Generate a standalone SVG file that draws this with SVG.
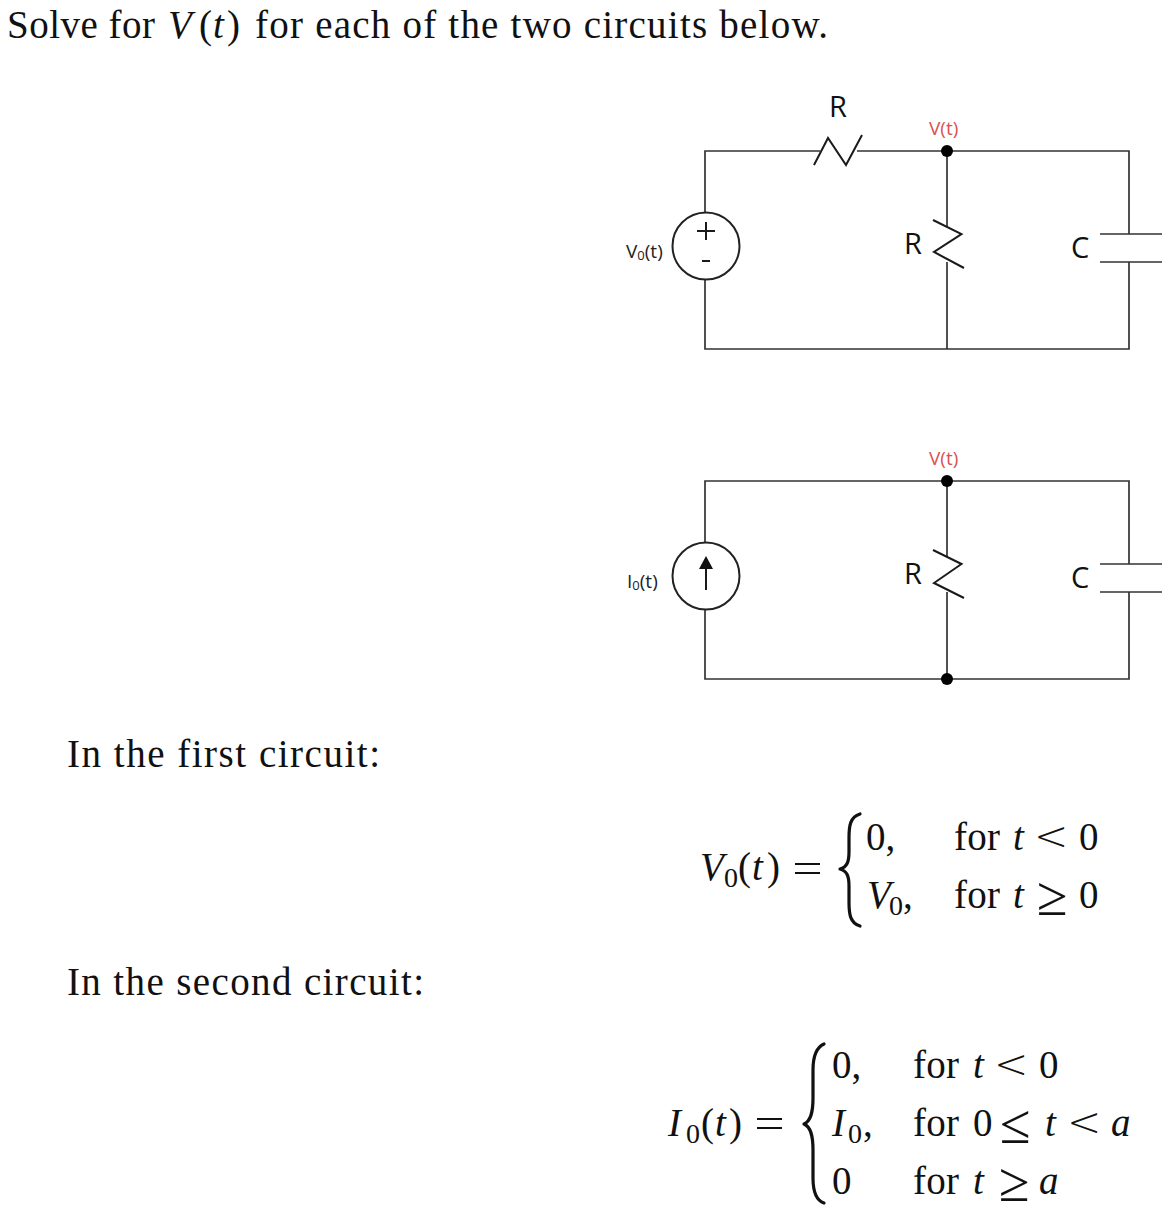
<svg xmlns="http://www.w3.org/2000/svg" width="1174" height="1226" viewBox="0 0 1174 1226">
<style>
.w{fill:none;stroke:#333;stroke-width:1.7}
.c{fill:none;stroke:#222;stroke-width:2}
.z{fill:none;stroke:#1a1a1a;stroke-width:2}
.b{fill:none;stroke:#111;stroke-width:3.200;stroke-linecap:round;stroke-linejoin:round}
.q{fill:none;stroke:#111;stroke-width:2}
.d{fill:#000}
.l{font-family:"Open Sans","Liberation Sans",sans-serif;fill:#222}
.n{font-size:19px}
.m{font-size:29px;fill:#111}
.r{font-size:19px;fill:#d9534f}
.t{font-family:"Liberation Serif",serif;fill:#111;font-size:39px}
.e{font-family:"Liberation Serif",serif;fill:#111;font-size:39px}
.o{font-family:"DejaVu Sans",sans-serif;fill:#111;font-size:41px;font-weight:200}
.g{font-family:"Liberation Serif",serif;fill:#111;font-size:56px}
.i{font-style:italic}
.s{font-size:28px}
</style>
<rect width="1174" height="1226" fill="#fff"/>
<g id="text-blocks">
<text class="t" x="7" y="38" textLength="148">Solve for</text>
<text class="t i" x="168" y="38">V</text>
<text class="t" x="199" y="38">(</text>
<text class="t i" x="213" y="38">t</text>
<text class="t" x="227" y="38">)</text>
<text class="t" x="255" y="38" textLength="573">for each of the two circuits below.</text>
<text class="t" x="67" y="767" textLength="313">In the first circuit:</text>
<text class="t" x="67" y="995" textLength="357">In the second circuit:</text>
</g>
<g id="connectors">
<path class="w" d="M705 212V151H820M857 151H947H1129V234M1129 262V349H705V280"/>
<path class="w" d="M947 151V227M947 262V349"/>
<path class="w" d="M705 542V481H1129V564M1129 592V679H705V610"/>
<path class="w" d="M947 481V557M947 592V679"/>
</g>
<g id="source-v"><circle class="c" cx="706" cy="246" r="33.500"/><path class="z" d="M697 231H715M706 222V240M702 261H710"/><text class="l n" x="626" y="258">V<tspan font-size="13" dy="2">0</tspan><tspan dy="-2">(t)</tspan></text></g>
<g id="resistor-r1"><path class="z" d="M814 165L828 138L846 165L862 135"/><text class="l m" x="829" y="117">R</text></g>
<g id="node-v1"><circle class="d" cx="947" cy="151" r="6"/><text class="l r" x="929" y="135">V(t)</text></g>
<g id="resistor-r2"><path class="z" d="M933 220L961.500 234L934 252L964 268"/><text class="l m" x="904" y="254">R</text></g>
<g id="capacitor-c1"><path class="w" d="M1100 234H1162M1100 262H1162"/><text class="l m" x="1071" y="258">C</text></g>
<g id="source-i"><circle class="c" cx="706" cy="576" r="33.500"/><path class="z" d="M706 590V565"/><path d="M706 556L713 569H699Z" fill="#111"/><text class="l n" x="627" y="588">I<tspan font-size="13" dy="2">0</tspan><tspan dy="-2">(t)</tspan></text></g>
<g id="node-v2"><circle class="d" cx="947" cy="481" r="6"/><text class="l r" x="929" y="465">V(t)</text></g>
<g id="resistor-r3"><path class="z" d="M933 550L961.500 564L934 583L964 598"/><text class="l m" x="904" y="584">R</text></g>
<g id="capacitor-c2"><path class="w" d="M1100 564H1162M1100 592H1162"/><text class="l m" x="1071" y="588">C</text></g>
<g id="node-bottom"><circle class="d" cx="947" cy="679" r="6"/></g>
<g id="equation-1">
<text class="e i" x="700" y="880">V</text><text class="e s" x="724" y="887">0</text><text class="e" x="738" y="880">(</text><text class="e i" x="752" y="880">t</text><text class="e" x="767" y="880">)</text>
<path class="q" d="M795 864H820M795 873H820"/>
<path class="b" d="M860 814C850 817 849 826 849 838V852C849 862 847 867 840 869C847 871 849 876 849 886V902C849 914 850 923 860 926"/>
<text class="e" x="866" y="850">0,</text><text class="e" x="954" y="850" textLength="46">for</text><text class="e i" x="1013" y="850">t</text><text class="o" x="1034" y="850">&lt;</text><text class="e" x="1079" y="850">0</text>
<text class="e i" x="867" y="908">V</text><text class="e s" x="889" y="915">0</text><text class="e" x="903" y="908">,</text><text class="e" x="954" y="908" textLength="46">for</text><text class="e i" x="1013" y="908">t</text><text class="g" x="1037" y="915">≥</text><text class="e" x="1079" y="908">0</text>
</g>
<g id="equation-2">
<text class="e i" x="668" y="1136">I</text><text class="e s" x="686" y="1143">0</text><text class="e" x="701" y="1136">(</text><text class="e i" x="715" y="1136">t</text><text class="e" x="729" y="1136">)</text>
<path class="q" d="M757 1119H782M757 1128H782"/>
<path class="b" d="M824 1044C815 1048 813 1058 813 1070V1098C813 1112 811 1121 804 1124C811 1127 813 1136 813 1150V1178C813 1190 815 1200 824 1203"/>
<text class="e" x="832" y="1078">0,</text><text class="e" x="913" y="1078" textLength="46">for</text><text class="e i" x="973" y="1078">t</text><text class="o" x="994" y="1078">&lt;</text><text class="e" x="1039" y="1078">0</text>
<text class="e i" x="832" y="1136">I</text><text class="e s" x="848" y="1143">0</text><text class="e" x="863" y="1136">,</text><text class="e" x="913" y="1136" textLength="46">for</text><text class="e" x="973" y="1136">0</text><text class="g" x="1000" y="1143">≤</text><text class="e i" x="1045" y="1136">t</text><text class="o" x="1067" y="1136">&lt;</text><text class="e i" x="1111" y="1136">a</text>
<text class="e" x="832" y="1194">0</text><text class="e" x="913" y="1194" textLength="46">for</text><text class="e i" x="973" y="1194">t</text><text class="g" x="999" y="1201">≥</text><text class="e i" x="1039" y="1194">a</text>
</g>
</svg>
